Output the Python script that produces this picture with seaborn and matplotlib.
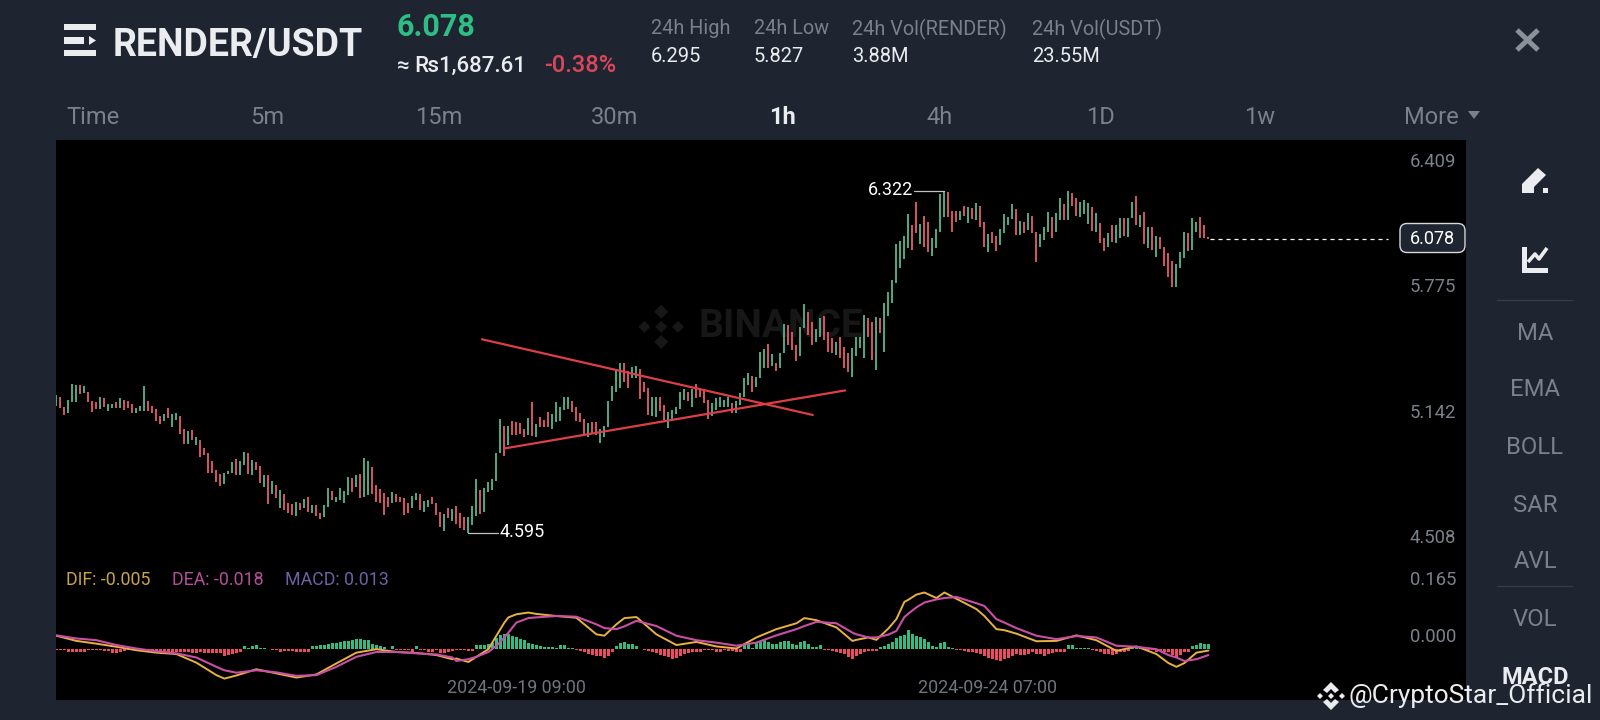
import numpy as np
import pandas as pd
import seaborn as sns
import matplotlib
matplotlib.use('Agg')
import matplotlib.pyplot as plt
from matplotlib.patches import FancyBboxPatch, Polygon, Rectangle

# 1h candles
candle_high = [
    5.291, 5.279, 5.232, 5.265, 5.344, 5.341, 5.341, 5.336, 5.307, 5.262,
    5.257, 5.279, 5.274, 5.243, 5.245, 5.254, 5.274, 5.265, 5.262, 5.243,
    5.223, 5.235, 5.336, 5.260, 5.237, 5.218, 5.184, 5.195, 5.227, 5.193,
    5.201, 5.184, 5.117, 5.110, 5.114, 5.077, 5.063, 5.021, 4.996, 4.959,
    4.912, 4.890, 4.898, 4.909, 4.951, 4.966, 4.957, 5.005, 4.999, 4.963,
    4.954, 4.932, 4.887, 4.887, 4.857, 4.836, 4.811, 4.791, 4.744, 4.740,
    4.749, 4.744, 4.766, 4.774, 4.735, 4.735, 4.697, 4.735, 4.819, 4.807,
    4.777, 4.819, 4.807, 4.875, 4.870, 4.887, 4.890, 4.971, 4.959, 4.928,
    4.836, 4.814, 4.794, 4.777, 4.803, 4.791, 4.777, 4.769, 4.744, 4.781,
    4.797, 4.791, 4.757, 4.761, 4.774, 4.744, 4.702, 4.690, 4.718, 4.715,
    4.730, 4.697, 4.676, 4.676, 4.732, 4.867, 4.811, 4.819, 4.853, 4.865,
    4.996, 5.168, 5.134, 5.134, 5.161, 5.153, 5.148, 5.117, 5.173, 5.254,
    5.144, 5.181, 5.164, 5.203, 5.195, 5.254, 5.228, 5.279, 5.282, 5.262,
    5.232, 5.202, 5.168, 5.148, 5.156, 5.156, 5.117, 5.134, 5.262, 5.336,
    5.417, 5.454, 5.451, 5.412, 5.434, 5.437, 5.420, 5.355, 5.325, 5.282,
    5.279, 5.282, 5.240, 5.207, 5.215, 5.232, 5.304, 5.321, 5.304, 5.321,
    5.345, 5.319, 5.316, 5.266, 5.249, 5.274, 5.279, 5.266, 5.282, 5.249,
    5.262, 5.299, 5.375, 5.400, 5.387, 5.383, 5.506, 5.523, 5.547, 5.498,
    5.451, 5.501, 5.648, 5.644, 5.611, 5.543, 5.633, 5.749, 5.708, 5.661,
    5.622, 5.681, 5.691, 5.611, 5.577, 5.560, 5.582, 5.532, 5.501, 5.526,
    5.585, 5.585, 5.695, 5.678, 5.658, 5.686, 5.678, 5.753, 5.812, 5.871,
    6.053, 6.070, 6.095, 6.204, 6.149, 6.263, 6.152, 6.196, 6.166, 6.082,
    6.127, 6.305, 6.322, 6.317, 6.221, 6.221, 6.221, 6.246, 6.238, 6.233,
    6.258, 6.246, 6.166, 6.103, 6.112, 6.093, 6.127, 6.202, 6.191, 6.255,
    6.230, 6.170, 6.166, 6.208, 6.196, 6.112, 6.102, 6.140, 6.216, 6.188,
    6.208, 6.287, 6.253, 6.320, 6.309, 6.287, 6.267, 6.275, 6.262, 6.241,
    6.208, 6.157, 6.081, 6.107, 6.149, 6.149, 6.182, 6.182, 6.182, 6.267,
    6.297, 6.199, 6.213, 6.140, 6.140, 6.095, 6.087, 6.040, 6.006, 5.969,
    5.950, 6.011, 6.112, 6.107, 6.182, 6.166, 6.191, 6.150, 6.090,
]
candle_low = [
    5.237, 5.223, 5.190, 5.198, 5.257, 5.257, 5.296, 5.299, 5.254, 5.203,
    5.220, 5.218, 5.228, 5.210, 5.227, 5.227, 5.223, 5.215, 5.223, 5.198,
    5.198, 5.210, 5.212, 5.210, 5.201, 5.159, 5.144, 5.159, 5.173, 5.127,
    5.164, 5.094, 5.043, 5.043, 5.063, 5.038, 4.979, 4.988, 4.898, 4.895,
    4.853, 4.833, 4.841, 4.892, 4.895, 4.887, 4.887, 4.937, 4.892, 4.887,
    4.912, 4.848, 4.824, 4.740, 4.791, 4.769, 4.718, 4.710, 4.697, 4.685,
    4.680, 4.710, 4.718, 4.702, 4.693, 4.680, 4.663, 4.676, 4.727, 4.761,
    4.752, 4.761, 4.744, 4.786, 4.803, 4.828, 4.769, 4.777, 4.786, 4.791,
    4.749, 4.747, 4.685, 4.727, 4.747, 4.752, 4.749, 4.685, 4.697, 4.722,
    4.761, 4.710, 4.702, 4.727, 4.740, 4.685, 4.626, 4.606, 4.668, 4.656,
    4.639, 4.622, 4.609, 4.595, 4.634, 4.680, 4.690, 4.700, 4.803, 4.811,
    4.858, 4.996, 4.985, 5.038, 5.089, 5.089, 5.092, 5.077, 5.089, 5.085,
    5.080, 5.127, 5.131, 5.131, 5.119, 5.153, 5.161, 5.215, 5.220, 5.203,
    5.160, 5.156, 5.089, 5.080, 5.094, 5.089, 5.047, 5.080, 5.127, 5.262,
    5.308, 5.325, 5.358, 5.325, 5.378, 5.375, 5.271, 5.304, 5.190, 5.185,
    5.178, 5.212, 5.164, 5.122, 5.170, 5.195, 5.218, 5.266, 5.262, 5.232,
    5.274, 5.282, 5.249, 5.168, 5.186, 5.215, 5.232, 5.232, 5.232, 5.198,
    5.202, 5.240, 5.282, 5.341, 5.308, 5.330, 5.375, 5.425, 5.429, 5.437,
    5.412, 5.429, 5.501, 5.543, 5.518, 5.464, 5.489, 5.627, 5.594, 5.543,
    5.560, 5.585, 5.569, 5.506, 5.501, 5.493, 5.476, 5.425, 5.409, 5.380,
    5.489, 5.526, 5.479, 5.585, 5.468, 5.417, 5.602, 5.506, 5.691, 5.753,
    5.854, 5.930, 5.976, 6.031, 6.023, 6.107, 6.053, 6.040, 6.014, 5.992,
    6.035, 6.112, 6.191, 6.191, 6.115, 6.166, 6.174, 6.196, 6.157, 6.177,
    6.174, 6.137, 6.040, 6.014, 6.056, 6.017, 6.047, 6.107, 6.149, 6.177,
    6.098, 6.098, 6.107, 6.123, 6.107, 5.964, 6.036, 6.073, 6.115, 6.081,
    6.115, 6.174, 6.174, 6.174, 6.246, 6.194, 6.191, 6.204, 6.154, 6.120,
    6.115, 6.060, 6.017, 6.040, 6.065, 6.056, 6.081, 6.095, 6.086, 6.182,
    6.149, 6.140, 6.053, 6.031, 6.023, 5.989, 6.028, 5.942, 5.888, 5.834,
    5.834, 5.930, 5.981, 6.019, 6.023, 6.112, 6.083, 6.083, 6.078,
]
candle_dir = ("GRRGGGRGRR" "RGRGGRGRRR" "GGGRRRRGRG" "GRRGRGRRRR" "RRGGGRGGRG"
              "RRGRGRGRRR" "GRGRGRRGGR" "GGGGRGRGGR" "RRRRGRRRRG" "GRGGRRRGRG"
              "RRRGGGRGGG" "GGRGRRRRGR" "GRRRGGGGGR" "RRRGRRGGGG" "GGRRGGRRRG"
              "GRRGGGGGRG" "RRRRGGGGGR" "GGGGRGGGRG" "RGGRRRGGRR" "GGRRRGRRRG"
              "GGGRRGRGGG" "GGGGRRGRRG" "GGGRRRGRGR" "GRRGRRGGGG" "RGRGRRGGGR"
              "GGRGRRGGGR" "GRRGRGGRGG" "RGRGRGRRRR" "GGGRGGRRR")

# MACD histogram, in thousandths
macd_hist = [
    -3, -3, -3, -10, -10, -9, -9, -9, -3, -3,
    -3, -4, -5, -6, -12, -11, -8, -6, -4, -3,
    -3, -3, -3, -3, -4, -5, -9, -9, -9, -9,
    -9, -8, -9, -10, -11, -13, -10, -11, -12, -13,
    -13, -13, -22, -19, -15, -12, -8, 9, 2, 9,
    10, 2, 2, -1, -2, -3, -10, -6, -7, -6,
    -9, -9, -9, -8, 8, 9, 10, 10, 15, 16,
    18, 20, 22, 24, 26, 28, 29, 27, 27, 15,
    11, 7, 4, -1, 9, -3, -3, -3, -3, -8,
    9, -2, -3, -8, -8, -3, -11, -11, -10, -7,
    -3, -3, -3, -7, -7, 10, 10, 12, 14, 17,
    30, 40, 42, 43, 38, 33, 29, 25, 18, 14,
    10, 8, 6, 4, 4, 3, 10, 10, 3, 2,
    -3, -6, -10, -16, -18, -20, -21, -27, -22, -10,
    8, 18, 21, 15, 13, 9, 1, -3, -6, -9,
    -12, -18, -22, -25, -28, -26, -20, -16, -12, -10,
    -10, -9, -3, -3, -4, -10, -10, -3, -5, -6,
    -8, -10, 12, 13, 3, 20, 24, 28, 21, 15,
    13, 20, 24, 24, 14, 10, 20, 23, 14, 6,
    4, 12, -2, -3, -6, -8, -11, -15, -25, -28,
    -20, -14, -10, -6, -7, -6, 6, 9, 14, 21,
    30, 36, 40, 54, 43, 38, 35, 28, 20, 9,
    4, 18, 19, 6, 3, -3, -4, -6, -8, -9,
    -12, -15, -20, -27, -29, -33, -35, -30, -26, -20,
    -16, -18, -18, -16, -10, -16, -16, -20, -16, -12,
    -10, -9, -8, 12, 12, 3, 3, 3, 2, -2,
    -6, -10, -14, -16, -17, -16, -10, -8, -7, 8,
    5, 3, -2, -3, -4, -10, -7, -9, -10, -18,
    -25, -18, -10, -8, 7, 12, 18, 14, 13,
]

# DIF / DEA read at these candles, thousandths
macd_idx = [0, 5, 10, 15, 20, 25, 30, 35, 40, 42, 45, 50, 55, 60, 65, 70, 75, 80, 85, 90, 95, 99,
            100, 103, 105, 108, 110, 112, 113, 115, 118, 120, 125, 130, 135, 137, 140, 142, 145, 150, 155, 160,
            165, 170, 175, 180, 185, 187, 190, 195, 199,
            200, 203, 205, 208, 210, 212, 213, 215, 217, 220, 222, 225, 230, 232, 235, 237, 240, 245, 250, 255, 260,
            265, 270, 275, 278, 280, 282, 285, 288]
dif_values = [38, 23, 15, 6, -4, -11, -15, -40, -76, -86, -77, -59, -71, -83, -74, -42, -11, -1, -9, -12, -18, -30,
              -28, -38, -23, -1, 38, 76, 91, 100, 105, 101, 95, 90, 42, 38, 71, 89, 92, 42, 11, 20,
              7, 1, 33, 57, 74, 89, 83, 62, 23,
              26, 33, 26, 59, 86, 136, 142, 157, 163, 147, 163, 145, 115, 95, 57, 54, 44, 22, 23, 39, 25,
              -6, 7, -15, -41, -52, -41, -11, -5]
dea_values = [39, 30, 25, 11, 1, -7, -13, -25, -52, -62, -69, -62, -68, -78, -76, -52, -23, -9, -9, -13, -16, -25,
              -35, -30, -23, -9, 9, 33, 47, 76, 89, 91, 95, 93, 71, 60, 57, 65, 81, 66, 38, 25,
              18, 9, 18, 39, 57, 66, 78, 74, 47,
              42, 33, 33, 41, 52, 92, 102, 120, 134, 143, 147, 150, 132, 124, 86, 76, 60, 38, 28, 37, 33,
              9, 6, -1, -18, -25, -35, -30, -18]

# hand drawn trend lines (candle index, price)
trend_down_idx = [106.4, 189.1]
trend_down_price = [5.572, 5.190]
trend_up_idx = [112, 197.2]
trend_up_price = [5.021, 5.314]

last_price = 6.078
price_hi = 6.322
price_lo = 4.595

price_labels = ['6.409', '5.775', '5.142', '4.508']
macd_labels = ['0.165', '0.000']
tabs = ['Time', '5m', '15m', '30m', '1h', '4h', '1D', '1w', 'More']
side_items = ['MA', 'EMA', 'BOLL', 'SAR', 'AVL', 'VOL']

BG = '#1e2530'
GRAY = '#7b808a'
GREEN = '#2ebd85'
RED = '#ef4a60'
WHITE = '#eaecef'

sns.set_theme(style='dark')
plt.rcParams['font.family'] = ['Roboto', 'DejaVu Sans']

fig = plt.figure(figsize=(16, 7.2), dpi=100, facecolor=BG)


def px_axes(left, top, right, bottom):
    return fig.add_axes([left / 1600, 1 - bottom / 720, (right - left) / 1600, (bottom - top) / 720])


# price panel
ax = px_axes(56, 140, 1466, 560)
ax_m = px_axes(56, 560, 1466, 699.5)
for a in (ax, ax_m):
    a.set_facecolor('black')
    a.set_xlim(-0.1, 352.4)
    a.set_xticks([])
    a.set_yticks([])
    a.set_xlabel('')
    a.set_ylabel('')
    a.grid(False)
    for s in a.spines.values():
        s.set_visible(False)

ax.set_ylim(4.458, 6.578)
ax_m.set_ylim(-0.1465, 0.257)

# faint exchange watermark behind the candles
ax.text(160.5, 5.635, 'BINANCE', color='#171717', fontsize=28, fontweight='bold', va='center', zorder=1)

idx = np.arange(len(candle_high))
cols = ['#4fa583' if d == 'G' else '#cf5361' for d in candle_dir]
ax.vlines(idx, candle_low, candle_high, colors=cols, linewidth=1.45, zorder=3, capstyle='butt')

sns.lineplot(x=trend_down_idx, y=trend_down_price, color='#dc3f45', linewidth=1.6, ax=ax, zorder=4)
sns.lineplot(x=trend_up_idx, y=trend_up_price, color='#dc3f45', linewidth=1.6, ax=ax, zorder=4)

# high / low markers
ax.plot([214.4, 222], [price_hi, price_hi], color='#bfc2c6', lw=0.9, zorder=4)
ax.text(214.2, price_hi + 0.006, '6.322', color='white', fontsize=13, ha='right', va='center')
ax.plot([103, 110.5], [price_lo, price_lo], color='#bfc2c6', lw=0.9, zorder=4)
ax.text(110.7, price_lo + 0.004, '4.595', color='white', fontsize=13, ha='left', va='center')

ax.plot([288.5, 333], [last_price, last_price], color='white', lw=0.9, dashes=(3.2, 3.2), zorder=4)

# MACD panel
hist_df = pd.DataFrame({'idx': np.arange(len(macd_hist)), 'hist': np.array(macd_hist) / 1000})
hist_df['side'] = np.where(hist_df['hist'] >= 0, 'up', 'down')
sns.barplot(data=hist_df, x='idx', y='hist', hue='side', palette={'up': GREEN, 'down': RED},
            dodge=False, native_scale=True, width=0.95, saturation=1, legend=False,
            errorbar=None, edgecolor='none', linewidth=0, ax=ax_m, zorder=2)
sns.lineplot(x=macd_idx, y=np.array(dif_values) / 1000, color='#e9b23f', linewidth=1.4, ax=ax_m, zorder=3)
sns.lineplot(x=macd_idx, y=np.array(dea_values) / 1000, color='#c84fa6', linewidth=1.5, ax=ax_m, zorder=4)
ax_m.set_xlim(-0.1, 352.4)
ax_m.set_ylim(-0.1465, 0.257)
ax_m.set_xlabel('')
ax_m.set_ylabel('')
ax_m.set_xticks([])
ax_m.set_yticks([])

# everything else is app chrome, drawn in pixel units on a top layer
ui = fig.add_axes([0, 0, 1, 1], zorder=10)
ui.set_xlim(0, 1600)
ui.set_ylim(720, 0)
ui.axis('off')
ui.patch.set_alpha(0)


def label(x, y, s, color=GRAY, size=16.5, ha='left', weight='normal'):
    return ui.text(x, y, s, color=color, fontsize=size, ha=ha, va='center', fontweight=weight)


# menu icon
for (x0, y0, w, h) in [(64, 24, 32, 6), (64, 37, 20, 7), (64, 50, 32, 6)]:
    ui.add_patch(Rectangle((x0, y0), w, h, color=WHITE, lw=0))
ui.add_patch(Polygon([(89, 36), (96, 40.5), (89, 45)], color=WHITE, lw=0))

label(113, 45, 'RENDER/USDT', WHITE, 27, weight='bold')
label(397, 27, '6.078', GREEN, 22, weight='bold')
label(397, 66, '≈ ₨1,687.61', WHITE, 16, weight='medium')
label(544, 66, '-0.38%', '#d9475a', 17, weight='medium')

stats = [(651, '24h High', '6.295'), (754, '24h Low', '5.827'),
         (852.5, '24h Vol(RENDER)', '3.88M'), (1032.5, '24h Vol(USDT)', '23.55M')]
for x0, head, val in stats:
    label(x0, 29, head, GRAY, 14.3)
    label(x0, 57, val, WHITE, 14.5)

# close button
ui.plot([1517, 1538], [30, 50], color='#8b909a', lw=3.6, solid_capstyle='butt')
ui.plot([1517, 1538], [50, 30], color='#8b909a', lw=3.6, solid_capstyle='butt')

tab_x = [93, 267, 439, 615, 782, 940, 1100, 1260, 1431]
for x0, t in zip(tab_x, tabs):
    if t == '1h':
        label(x0, 118, t, WHITE, 17, ha='center', weight='bold')
    else:
        label(x0, 118, t, GRAY, 17, ha='center')
ui.add_patch(Polygon([(1468, 111), (1480, 111), (1474, 119)], color=GRAY, lw=0))

# axis labels sit just above their grid position in this app
for y0, t in zip([162, 287, 413, 538], price_labels):
    label(1456, y0, t, GRAY, 13.3, ha='right')
for y0, t in zip([580, 637], macd_labels):
    label(1456, y0, t, GRAY, 13.3, ha='right')

ui.add_patch(FancyBboxPatch((1400, 223.5), 65, 29, boxstyle='round,pad=0,rounding_size=7', fc=BG, ec='#d7d9dc', lw=1))
label(1432.5, 238.5, '6.078', 'white', 13, ha='center')

label(66, 580, 'DIF: -0.005', '#c9a449', 12.8)
label(172, 580, 'DEA: -0.018', '#b4509a', 12.8)
label(285, 580, 'MACD: 0.013', '#6d62a6', 12.8)

label(516, 688, '2024-09-19 09:00', '#6f747d', 12.9, ha='center')
label(988, 688, '2024-09-24 07:00', '#6f747d', 12.9, ha='center')

# right tool column
ui.add_patch(Polygon([(1522, 193), (1522, 184), (1538, 168), (1546, 175), (1534, 187), (1534, 193)], color=WHITE, lw=0))
ui.add_patch(Rectangle((1543, 188), 5, 5, color=WHITE, lw=0))
ui.add_patch(Polygon([(1522, 247), (1527, 247), (1527, 268), (1548, 268), (1548, 273), (1522, 273)], color=WHITE, lw=0))
ui.plot([1528, 1535, 1539, 1547], [262, 254, 259, 248], color=WHITE, lw=2.6, solid_capstyle='butt')

ui.plot([1497, 1572], [300, 300], color='#353c48', lw=1)
ui.plot([1497, 1572], [586, 586], color='#353c48', lw=1)
for y0, t in zip([333, 390, 448, 505, 562, 620], side_items):
    label(1535, y0, t, GRAY, 17.2, ha='center')
label(1535, 677, 'MACD', WHITE, 17, ha='center', weight='bold')

# author watermark
label(1348, 696, '@CryptoStar_Official', WHITE, 19)
cx, cy = 1331, 696
ui.add_patch(Polygon([(cx, cy - 14), (cx + 8, cy - 6), (cx + 4, cy - 3), (cx, cy - 7), (cx - 4, cy - 3), (cx - 8, cy - 6)], color=WHITE, lw=0))
ui.add_patch(Polygon([(cx, cy + 14), (cx + 8, cy + 6), (cx + 4, cy + 3), (cx, cy + 7), (cx - 4, cy + 3), (cx - 8, cy + 6)], color=WHITE, lw=0))
for dx in (-11, 0, 11):
    ui.add_patch(Polygon([(cx + dx - 3, cy), (cx + dx, cy - 3), (cx + dx + 3, cy), (cx + dx, cy + 3)], color=WHITE, lw=0))

# faint exchange logo, kept on the price panel so candles stay on top
for dx, dy, r in [(0, -0.076, 7), (0, 0, 6), (0, 0.076, 7), (-4.2, 0, 6), (4.2, 0, 6)]:
    rx = r / 4
    ry = r * 0.00505
    lx, ly = 151.2 + dx, 5.635 + dy
    ax.add_patch(Polygon([(lx - rx, ly), (lx, ly - ry), (lx + rx, ly), (lx, ly + ry)],
                         color='#171717', lw=0, zorder=1))

fig.savefig('out.png', dpi=100, facecolor=BG)
